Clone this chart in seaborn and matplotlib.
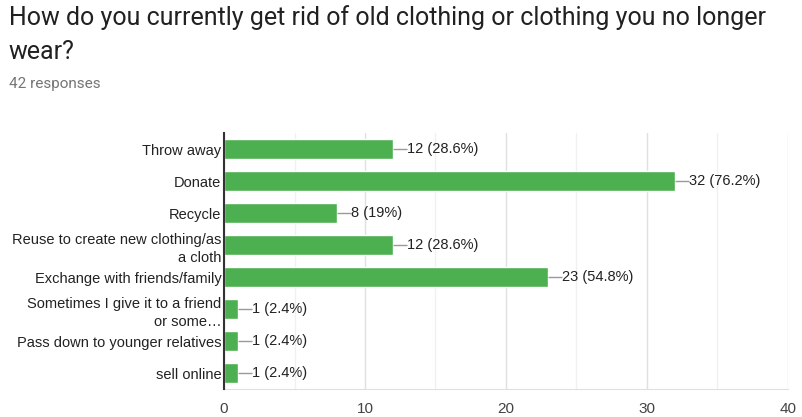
import matplotlib
matplotlib.use("Agg")
import matplotlib.pyplot as plt
import seaborn as sns
import pandas as pd

# Veriler
kategoriler = ["Throw away", "Donate", "Recycle",
               "Reuse to create new clothing/as\na cloth",
               "Exchange with friends/family",
               "Sometimes I give it to a friend\nor some\u2026",
               "Pass down to younger relatives", "sell online"]
sayilar = [12, 32, 8, 12, 23, 1, 1, 1]
yuzdeler = ["28.6%", "76.2%", "19%", "28.6%", "54.8%", "2.4%", "2.4%", "2.4%"]
x_ticks = [0, 10, 20, 30, 40]

df = pd.DataFrame({"kategori": kategoriler, "sayi": sayilar})

sns.set_style("white")
plt.rcParams["font.family"] = ["Liberation Sans", "DejaVu Sans"]

fig = plt.figure(figsize=(8.03, 4.17), dpi=100)
ax = fig.add_axes([0.279, 0.067, 0.702, 0.614])

sns.barplot(data=df, x="sayi", y="kategori", color="#4caf50", saturation=1,
            width=0.62, ax=ax, zorder=3)

ax.set_xlim(0, 40)
ax.set_ylim(len(kategoriler) - 0.5, -0.5)
ax.set_xticks(x_ticks)
ax.set_xticks([5, 15, 25, 35], minor=True)
ax.grid(axis="x", which="major", color="#e0e0e0", linewidth=1, zorder=0)
ax.grid(axis="x", which="minor", color="#f0f0f0", linewidth=1, zorder=0)
ax.set_xlabel("")
ax.set_ylabel("")

for s in ["top", "right"]:
    ax.spines[s].set_visible(False)
ax.spines["bottom"].set_color("#e0e0e0")
ax.spines["left"].set_color("#333333")
ax.spines["left"].set_linewidth(1.5)
ax.spines["left"].set_zorder(4)

ax.tick_params(axis="x", which="both", length=0, labelsize=11, labelcolor="#444444", pad=9)
ax.tick_params(axis="y", length=0, labelsize=10.5, labelcolor="#222222", pad=2)
for t in ax.get_yticklabels():
    t.set_linespacing(1.4)

# bar sonu etiketleri + kisa baglanti cizgisi
for i, (v, p) in enumerate(zip(sayilar, yuzdeler)):
    ax.hlines(i, v, v + 1.0, color="#999999", linewidth=1, zorder=3)
    ax.annotate(f"{v} ({p})", xy=(v, i), xytext=(10.3, 0), textcoords="offset points",
                ha="left", va="center", fontsize=10.5, color="#222222")

fig.text(0.011, 0.958, "How do you currently get rid of old clothing or clothing you no longer",
         fontsize=18, family="Roboto", color="#212121", va="center")
fig.text(0.011, 0.875, "wear?", fontsize=18, family="Roboto", color="#212121", va="center")
fig.text(0.011, 0.798, "42 responses", fontsize=11, family="Roboto", color="#757575", va="center")

fig.savefig("out.png", dpi=100)
